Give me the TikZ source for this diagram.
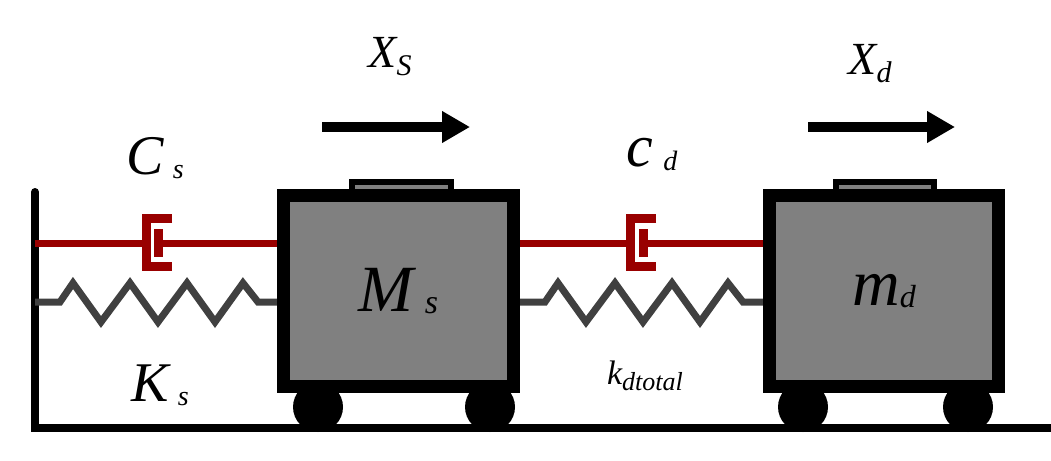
\documentclass[tikz,border=0pt]{standalone}
\usepackage{fontspec}
\setmainfont{Liberation Serif}
\definecolor{dred}{RGB}{153,0,0}
\definecolor{sgray}{RGB}{64,64,64}
\definecolor{bgray}{RGB}{128,128,128}
\tikzset{
 massbox/.style={draw=black,fill=bgray,line width=13pt},
 lid/.style={draw=black,fill=bgray,line width=6pt},
 wheel/.style={fill=black},
 dline/.style={draw=dred,line width=7pt},
 cup/.style={draw=dred,line width=9pt},
 sline/.style={draw=sgray,line width=7pt,line join=miter},
 marr/.style={line width=10pt,-{Triangle[length=28pt,width=30pt]}},
}
\usetikzlibrary{arrows.meta}
\begin{document}
\begin{tikzpicture}[x=1pt,y=-1pt]
\useasboundingbox (0,0) rectangle (1051,460);
% ground
\draw[line width=8pt,line cap=round] (35,192) -- (35,428) -- (1051,428);
% left damper
\draw[dline] (35,243) -- (146,243);
\draw[cup] (172,218) -- (146,218) -- (146,266) -- (172,266);
\draw[cup] (158,229) -- (158,257);
\draw[dline] (158,243) -- (283,243);
% left spring
\draw[sline] (35,302)--(60,302)--(73,283)--(101,322)--(130,283)--(158,322)--(187,283)--(215,322)--(243,283)--(258,302)--(283,302);
% middle damper
\draw[dline] (520,243) -- (630,243);
\draw[cup] (656,218) -- (630,218) -- (630,266) -- (656,266);
\draw[cup] (643,229) -- (643,257);
\draw[dline] (643,243) -- (766,243);
% middle spring
\draw[sline] (520,302)--(545,302)--(558,283)--(586,322)--(615,283)--(643,322)--(672,283)--(700,322)--(728,283)--(743,302)--(766,302);
% mass Ms
\fill[wheel] (318,407) circle (25);
\fill[wheel] (490,407) circle (25);
\draw[lid] (352,182) rectangle (451,192);
\node[massbox,minimum width=230pt,minimum height=191pt,inner sep=0] (ms) at (398.5,291) {};
\node[font=\itshape\fontsize{66}{66}\selectfont] at (ms) {M\,\fontsize{34}{34}\selectfont\raisebox{-2pt}{s}};
% mass md
\fill[wheel] (803,407) circle (25);
\fill[wheel] (968,407) circle (25);
\draw[lid] (836,182) rectangle (934,192);
\node[massbox,minimum width=229pt,minimum height=191pt,inner sep=0] (md) at (884,291) {};
\node[font=\itshape\fontsize{66}{66}\selectfont] at (md) {m\fontsize{32}{32}\selectfont\raisebox{-2pt}{d}};
% arrows
\coordinate (a1) at (322,127); \coordinate (a2) at (470,127);
\draw[marr] (a1) -- (a2);
\coordinate (b1) at (808,127); \coordinate (b2) at (955,127);
\draw[marr] (b1) -- (b2);
% labels
\node[font=\itshape\fontsize{46}{46}\selectfont] (xs) at (390,57) {X\fontsize{30}{30}\selectfont\raisebox{-8pt}{S}};
\node[font=\itshape\fontsize{46}{46}\selectfont] (xd) at (870,64) {X\fontsize{30}{30}\selectfont\raisebox{-8pt}{d}};
\node[font=\itshape\fontsize{56}{56}\selectfont] (cs) at (155,158) {C\,\fontsize{28}{28}\selectfont\raisebox{-4pt}{s}};
\node[font=\itshape\fontsize{60}{60}\selectfont] (cd) at (652,155) {c\,\fontsize{28}{28}\selectfont\raisebox{-4pt}{d}};
\node[font=\itshape\fontsize{56}{56}\selectfont] (ks) at (160,385) {K\,\fontsize{28}{28}\selectfont\raisebox{-4pt}{s}};
\node[font=\itshape\fontsize{34}{34}\selectfont] (kd) at (645,376) {k\fontsize{26}{26}\selectfont\raisebox{-6pt}{dtotal}};
\end{tikzpicture}
\end{document}
